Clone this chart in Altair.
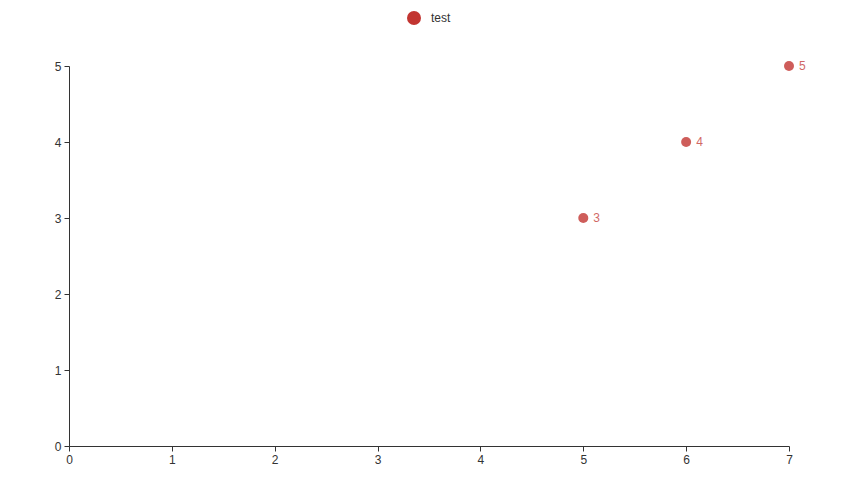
import altair as alt
import pandas as pd

# series data
series_name = ["test", "test", "test"]
x_values = [5, 6, 7]
y_values = [3, 4, 5]

df = pd.DataFrame({"series": series_name, "x": x_values, "y": y_values})

FONT = "Liberation Sans"
RED = "#c23531"

x_axis = alt.Axis(values=list(range(0, 8)), grid=False, domainColor="#333", tickColor="#333",
                  tickSize=5, labelColor="#333", labelFontSize=12, labelFont=FONT,
                  labelPadding=3, labelFlush=False, title=None, format="d")
y_axis = alt.Axis(values=list(range(0, 6)), grid=False, domainColor="#333", tickColor="#333",
                  tickSize=5, labelColor="#333", labelFontSize=12, labelFont=FONT,
                  labelPadding=3, labelFlush=False, title=None, format="d")

base = alt.Chart(df).encode(
    x=alt.X("x:Q", scale=alt.Scale(domain=[0, 7], nice=False), axis=x_axis),
    y=alt.Y("y:Q", scale=alt.Scale(domain=[0, 5], nice=False), axis=y_axis),
)

points = base.mark_point(filled=True, shape="circle", size=100, opacity=0.8).encode(
    color=alt.Color(
        "series:N",
        scale=alt.Scale(range=[RED]),
        legend=alt.Legend(
            title=None, orient="none", legendX=337, legendY=-56, direction="horizontal",
            symbolSize=196, symbolOpacity=1, symbolType="circle", labelFont=FONT,
            labelFontSize=12, labelColor="#333", labelOffset=9, padding=0,
        ),
    )
)

labels = base.mark_text(align="left", baseline="middle", dx=10, font=FONT, fontSize=12,
                        color=RED, opacity=0.75).encode(text="y:Q")

chart = (points + labels).properties(
    width=720,
    height=380,
    autosize=alt.AutoSizeParams(type="none"),
    padding={"left": 61, "top": 58, "right": 50, "bottom": 41},
).configure_view(stroke=None)

chart.save("out.html", embed_options={"renderer": "svg", "actions": False})
